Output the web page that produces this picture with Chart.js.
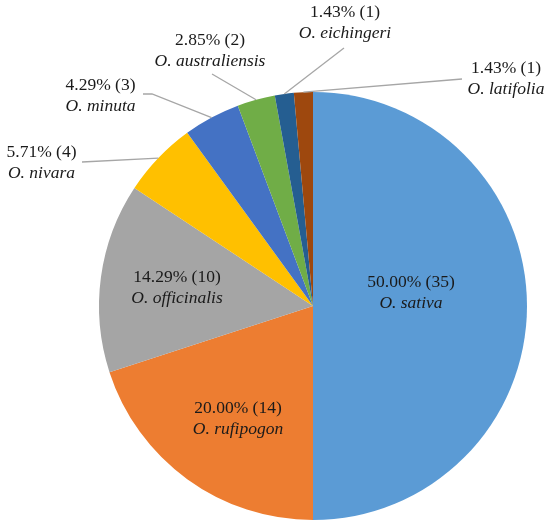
<!DOCTYPE html>
<html>
<head>
<meta charset="utf-8">
<script src="https://cdn.jsdelivr.net/npm/chart.js@4"></script>
<style>
  body { margin: 0; background: #fff; }
  #wrap { width: 550px; height: 525px; position: relative; }
</style>
</head>
<body>
<div id="wrap"><canvas id="pieChart"></canvas></div>
<script>
// data
const species = ['O. sativa', 'O. rufipogon', 'O. officinalis', 'O. nivara', 'O. minuta', 'O. australiensis', 'O. eichingeri', 'O. latifolia'];
const counts = [35, 14, 10, 4, 3, 2, 1, 1];
const percents = ['50.00%', '20.00%', '14.29%', '5.71%', '4.29%', '2.85%', '1.43%', '1.43%'];

// slice colours (Excel palette)
const colors = ['#5B9BD5', '#ED7D31', '#A5A5A5', '#FFC000', '#4472C4', '#70AD47', '#255E91', '#9E480E'];

// label placement, offsets from pie centre in px
// inside: [dx, dy]; outside: [dx, dy, lineStartDx, lineStartDy, elbowDx?]
const labelPlace = [
  { inside: true, at: [98, -13.5] },
  { inside: true, at: [-75, 112.5] },
  { inside: true, at: [-136, -18.5] },
  { at: [-271.5, -143.5], from: [-231, -144] },
  { at: [-212.5, -210], from: [-170, -212], elbow: [-161, -212] },
  { at: [-103, -255], from: [-101, -232] },
  { at: [32, -283], from: [31, -258] },
  { at: [193, -227.5], from: [149, -227] }
];

const labelPlugin = {
  id: 'sliceLabels',
  afterDatasetsDraw(chart) {
    const ctx = chart.ctx;
    const arcs = chart.getDatasetMeta(0).data;
    ctx.save();
    arcs.forEach((arc, i) => {
      const p = arc.getProps(['x', 'y', 'startAngle', 'endAngle', 'outerRadius'], true);
      const place = labelPlace[i];
      const tx = p.x + place.at[0];
      const ty = p.y + place.at[1];
      if (!place.inside) {
        const mid = (p.startAngle + p.endAngle) / 2;
        const ex = p.x + p.outerRadius * Math.cos(mid);
        const ey = p.y + p.outerRadius * Math.sin(mid);
        ctx.strokeStyle = '#A6A6A6';
        ctx.lineWidth = 1.3;
        ctx.beginPath();
        ctx.moveTo(p.x + place.from[0], p.y + place.from[1]);
        if (place.elbow) ctx.lineTo(p.x + place.elbow[0], p.y + place.elbow[1]);
        ctx.lineTo(ex, ey);
        ctx.stroke();
      }
      ctx.fillStyle = '#1a1a1a';
      ctx.textAlign = 'center';
      ctx.textBaseline = 'middle';
      ctx.font = '17.5px "Liberation Serif", "Times New Roman", serif';
      ctx.fillText(percents[i] + ' (' + counts[i] + ')', tx, ty - 10.5);
      ctx.font = 'italic 17.5px "Liberation Serif", "Times New Roman", serif';
      ctx.fillText(species[i], tx, ty + 10.5);
    });
    ctx.restore();
  }
};

const ctx = document.getElementById('pieChart').getContext('2d');
const pieChart = new Chart(ctx, {
  type: 'pie',
  data: {
    labels: species,
    datasets: [{
      data: counts,
      backgroundColor: colors,
      borderWidth: 0
    }]
  },
  options: {
    responsive: true,
    maintainAspectRatio: false,
    animation: false,
    layout: { padding: { left: 99, right: 23, top: 92, bottom: 5 } },
    plugins: {
      legend: { display: false },
      tooltip: { enabled: false }
    }
  },
  plugins: [labelPlugin]
});
</script>
</body>
</html>
